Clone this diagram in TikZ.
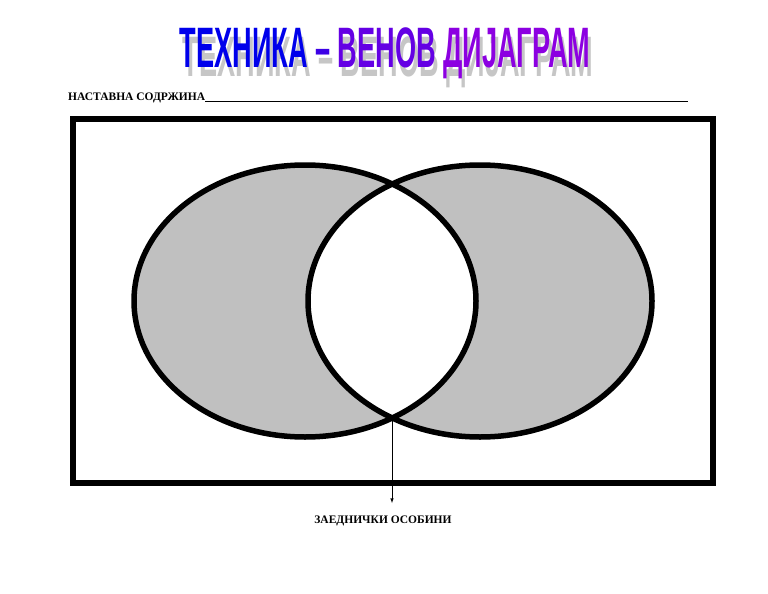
\documentclass[tikz,border=0pt]{standalone}
\usepackage{fontspec}
\setmainfont{Liberation Serif}
\newfontfamily\headfont{Liberation Sans}
\usepackage{graphicx}
\usetikzlibrary{positioning,arrows,shapes}
\definecolor{tA}{RGB}{0,0,235}
\definecolor{tB}{RGB}{60,0,230}
\definecolor{tC}{RGB}{100,0,228}
\definecolor{tD}{RGB}{140,0,225}
\definecolor{reggray}{RGB}{192,192,192}
\newcommand{\headtext}[1]{\headfont\bfseries\fontsize{57}{60}\selectfont\scalebox{0.476}[1]{#1}}
\tikzset{reg/.style={fill=reggray},
            rim/.style={draw,line width=5.5pt},
            lbl/.style={font=\bfseries\fontsize{11.5}{13}\selectfont, inner sep=0pt}}

\begin{document}
\begin{tikzpicture}[x=1pt,y=-1pt]
\useasboundingbox (0,0) rectangle (768,594);
% title with its shadow
\node[text=gray!45, anchor=base] at (388,76)(shade){\headtext{ТЕХНИКА – ВЕНОВ ДИЈАГРАМ}};
\node[anchor=base] at (385,67)(title){\headtext{\color{tA}ТЕХНИКА \color{tB}– \color{tC}ВЕНОВ \color{tD}ДИЈАГРАМ}};
\node[lbl, anchor=base west] at (68,100)(topic){НАСТАВНА СОДРЖИНА};
\draw[line width=0.6pt] (topic.base east) ++(0,1.5) -- (688,101.5);
% frame
\draw[line width=6pt] (73,119) rectangle (713,483);
% the two sets
\fill[reg] (305,301) ellipse [x radius=171, y radius=136];
\fill[reg] (480,301) ellipse [x radius=172, y radius=136];
\begin{scope}
\clip (305,301) ellipse [x radius=171, y radius=136];
\fill[white] (480,301) ellipse [x radius=172, y radius=136];
\end{scope}
\draw[rim] (305,301) ellipse [x radius=171, y radius=136];
\draw[rim] (480,301) ellipse [x radius=172, y radius=136];
% common part
\coordinate (meet) at (392,418);
\coordinate (tip) at (392,503);
\node[lbl, anchor=base] at (383,523)(common){ЗАЕДНИЧКИ ОСОБИНИ};
\draw[-latex, line width=0.6pt] (meet) -- (tip);
\end{tikzpicture}
\end{document}
